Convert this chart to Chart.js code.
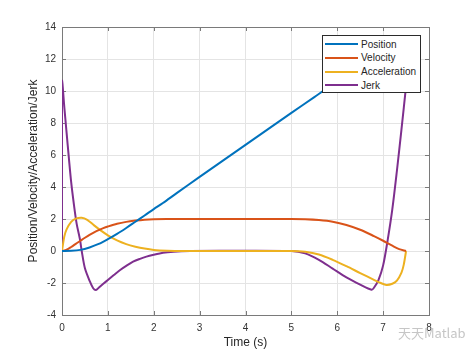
<!DOCTYPE html>
<html><head><meta charset="utf-8">
<script src="https://cdn.jsdelivr.net/npm/chart.js@4.4.0/dist/chart.umd.min.js"></script>
<style>
html,body{margin:0;padding:0;background:#fff;}
#wrap{position:relative;width:474px;height:355px;overflow:hidden;}
#c{position:absolute;left:0;top:0;width:474px;height:355px;}
#legend{position:absolute;left:322px;top:35px;width:97px;height:56px;border:1px solid #2b2b2b;background:#fff;font:10px "Liberation Sans",Arial,sans-serif;color:#262626;}
.row{position:absolute;left:2px;height:14px;display:flex;align-items:center;white-space:nowrap;}
.sw{width:33px;height:2px;margin-right:3px;}
#wm{position:absolute;left:398px;top:324px;font:13px "Noto Sans CJK SC",sans-serif;color:#c6c6c6;line-height:18px;}
</style></head>
<body><div id="wrap"><canvas id="c" width="474" height="355"></canvas><div id="legend"></div><div id="wm">天天Matlab</div></div>
<script>
// ---- data ----
const seriesNames = ['Position', 'Velocity', 'Acceleration', 'Jerk'];
const seriesColors = ['#0072BD', '#D95319', '#EDB120', '#7E2F8E'];

const posT = [0, 0.2, 0.4, 0.6, 0.8, 1.0, 1.2, 1.4, 1.6, 1.8, 2.0, 2.2, 2.5, 3, 4, 5, 5.5, 6, 6.5, 7, 7.5];
const posY = [0, 0.01, 0.07, 0.22, 0.44, 0.74, 1.07, 1.44, 1.83, 2.22, 2.62, 3.0, 3.62, 4.63, 6.63, 8.63, 9.62, 10.58, 11.4, 11.95, 12.1];

const velT = [0, 0.1, 0.2, 0.3, 0.4, 0.5, 0.6, 0.7, 0.8, 0.9, 1.0, 1.2, 1.4, 1.6, 1.8, 2.0, 2.3, 2.6, 5.0, 5.3, 5.6, 5.9, 6.2, 6.5, 6.8, 7.0, 7.2, 7.35, 7.5];
const velY = [0, 0.08, 0.25, 0.45, 0.64, 0.83, 1.01, 1.17, 1.31, 1.43, 1.53, 1.7, 1.82, 1.9, 1.96, 1.99, 2.0, 2.0, 2.0, 1.98, 1.93, 1.83, 1.63, 1.33, 0.93, 0.64, 0.33, 0.12, 0];

const accT = [0, 0.05, 0.1, 0.2, 0.3, 0.43, 0.55, 0.7, 0.85, 1.0, 1.2, 1.4, 1.6, 1.8, 2.0, 2.3, 2.6, 5.0, 5.3, 5.6, 5.9, 6.2, 6.5, 6.8, 6.95, 7.07, 7.2, 7.3, 7.4, 7.45, 7.5];
const accY = [0, 0.9, 1.35, 1.82, 2.02, 2.08, 1.95, 1.6, 1.27, 0.98, 0.66, 0.43, 0.27, 0.15, 0.07, 0.02, 0, 0, -0.05, -0.22, -0.55, -0.95, -1.38, -1.8, -2.0, -2.12, -2.05, -1.85, -1.35, -0.85, 0];

const jerkT = [0, 0, 0.05, 0.1, 0.15, 0.2, 0.26, 0.32, 0.39, 0.43, 0.5, 0.61, 0.68, 0.74, 0.8, 0.9, 1.0, 1.13, 1.26, 1.4, 1.55, 1.7, 1.84, 2.0, 2.13, 2.3, 2.43, 2.6, 2.8, 5.0, 5.3, 5.6, 5.9, 6.2, 6.5, 6.75, 6.8, 6.9, 7.0, 7.1, 7.2, 7.3, 7.4, 7.5];
const jerkY = [0, 10.6, 9.0, 7.4, 5.8, 4.3, 2.9, 1.7, 0.75, 0, -1.08, -1.92, -2.33, -2.44, -2.29, -2.05, -1.81, -1.5, -1.2, -0.93, -0.67, -0.49, -0.35, -0.23, -0.15, -0.08, -0.04, -0.01, 0, 0, -0.15, -0.55, -1.1, -1.65, -2.1, -2.42, -2.3, -1.8, -0.9, 0.7, 2.6, 5.0, 7.6, 10.3];

const xTicks = [0, 1, 2, 3, 4, 5, 6, 7, 8];
const yTicks = [-4, -2, 0, 2, 4, 6, 8, 10, 12, 14];
const xTitle = 'Time (s)';
const yTitle = 'Position/Velocity/Acceleration/Jerk';

// ---- build ----
const pts = (t, v) => t.map((x, i) => ({x: x, y: v[i]}));
const seriesData = [pts(posT, posY), pts(velT, velY), pts(accT, accY), pts(jerkT, jerkY)];

const FONT = '"Liberation Sans", Arial, Helvetica, sans-serif';
const AXIS = '#7a7a7a';

const boxPlugin = {
  id: 'matlabBox',
  beforeDatasetsDraw(chart) {
    const {ctx, chartArea: a, scales: {x, y}} = chart;
    ctx.save();
    ctx.strokeStyle = AXIS;
    ctx.lineWidth = 1;
    ctx.beginPath();
    xTicks.forEach(v => {
      const px = Math.round(x.getPixelForValue(v)) + 0.5;
      ctx.moveTo(px, a.bottom); ctx.lineTo(px, a.bottom - 4);
      ctx.moveTo(px, a.top); ctx.lineTo(px, a.top + 4);
    });
    yTicks.forEach(v => {
      const py = Math.round(y.getPixelForValue(v)) + 0.5;
      ctx.moveTo(a.left, py); ctx.lineTo(a.left + 4, py);
      ctx.moveTo(a.right, py); ctx.lineTo(a.right - 4, py);
    });
    ctx.stroke();
    ctx.strokeRect(Math.round(a.left) + 0.5, Math.round(a.top) + 0.5, Math.round(a.right - a.left), Math.round(a.bottom - a.top));
    ctx.restore();
  }
};

const chart = new Chart(document.getElementById('c'), {
  type: 'line',
  data: {
    datasets: seriesNames.map((n, i) => ({
      label: n,
      data: seriesData[i],
      borderColor: seriesColors[i],
      backgroundColor: seriesColors[i],
      borderWidth: 2,
      pointRadius: 0,
      tension: 0.3,
      fill: false
    }))
  },
  options: {
    responsive: false,
    animation: false,
    layout: {padding: {left: 0, right: 45, top: 27, bottom: 0}},
    plugins: {legend: {display: false}, tooltip: {enabled: false}},
    scales: {
      x: {
        type: 'linear', min: 0, max: 8,
        afterBuildTicks: s => { s.ticks = xTicks.map(v => ({value: v})); },
        afterFit: s => { s.height = 40; },
        grid: {color: '#e4e4e4', drawTicks: false},
        border: {display: false},
        ticks: {color: '#333', font: {family: FONT, size: 10}, padding: 7, maxRotation: 0},
        title: {display: true, text: xTitle, color: '#262626', font: {family: FONT, size: 12}, padding: {top: 0, bottom: 5}}
      },
      y: {
        type: 'linear', min: -4, max: 14,
        afterBuildTicks: s => { s.ticks = yTicks.map(v => ({value: v})); },
        afterFit: s => { s.width = 62; },
        grid: {color: '#e4e4e4', drawTicks: false},
        border: {display: false},
        ticks: {color: '#333', font: {family: FONT, size: 10}, padding: 6},
        title: {display: true, text: yTitle, color: '#262626', font: {family: FONT, size: 12}, padding: {top: 26, bottom: 0}}
      }
    }
  },
  plugins: [boxPlugin]
});

// HTML legend built from the datasets
const lg = document.getElementById('legend');
seriesNames.forEach((n, i) => {
  const r = document.createElement('div');
  r.className = 'row';
  r.style.top = (1 + i * 13.75) + 'px';
  const sw = document.createElement('span');
  sw.className = 'sw';
  sw.style.background = seriesColors[i];
  const tx = document.createElement('span');
  tx.textContent = n;
  r.appendChild(sw); r.appendChild(tx);
  lg.appendChild(r);
});
</script>
</body></html>
